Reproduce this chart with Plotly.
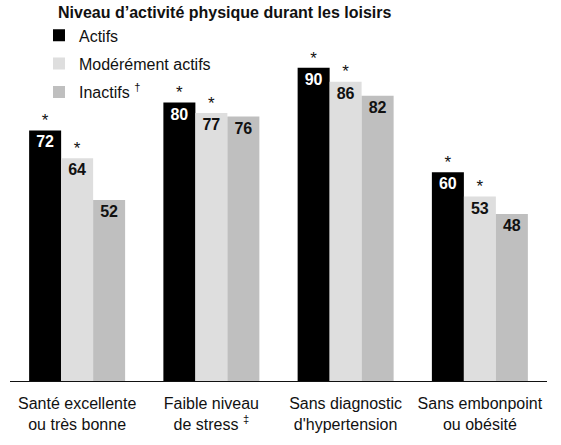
import plotly.graph_objects as go

# valeurs (%)
categories = [
    "Santé excellente<br>ou très bonne",
    "Faible niveau<br>de stress <sup>‡</sup>",
    "Sans diagnostic<br>d'hypertension",
    "Sans embonpoint<br>ou obésité",
]
actifs = [72, 80, 90, 60]
moderes = [64, 77, 86, 53]
inactifs = [52, 76, 82, 48]
sig_actifs = ["*", "*", "*", "*"]
sig_moderes = ["*", "*", "*", "*"]
sig_inactifs = ["", "", "", ""]

series = [
    ("Actifs", actifs, sig_actifs, "#000000", "white"),
    ("Modérément actifs", moderes, sig_moderes, "#dedede", "#111111"),
    ("Inactifs <sup>†</sup>", inactifs, sig_inactifs, "#bfbfbf", "#111111"),
]

FONT = "Liberation Sans, Arial, sans-serif"

fig = go.Figure()
for i, (name, vals, sig, color, txtcol) in enumerate(series):
    fig.add_trace(go.Bar(
        x=categories, y=vals, name=name,
        marker=dict(color=color, line=dict(width=0)),
        text=vals, textposition="inside", insidetextanchor="end",
        textangle=0, constraintext="none",
        textfont=dict(family=FONT, size=16, color=txtcol, weight="bold"),
        offsetgroup=str(i), alignmentgroup="g", legendgroup=str(i),
        hoverinfo="skip",
    ))
# astérisques de signification au-dessus des barres
for i, (name, vals, sig, color, txtcol) in enumerate(series):
    fig.add_trace(go.Scatter(
        x=categories, y=vals, mode="text", text=sig,
        textposition="top center",
        textfont=dict(family=FONT, size=17, color="#111111"),
        offsetgroup=str(i), alignmentgroup="g",
        showlegend=False, hoverinfo="skip", cliponaxis=False,
    ))

fig.update_layout(
    width=561, height=445,
    margin=dict(l=10, r=14, t=33, b=64, autoexpand=False),
    barmode="group", bargap=0.285, bargroupgap=0,
    scattermode="group", scattergap=0.285,
    plot_bgcolor="white", paper_bgcolor="white",
    font=dict(family=FONT, size=16, color="#111111"),
    title=dict(
        text="<b>Niveau d’activité physique durant les loisirs</b>",
        x=58 / 561, xanchor="left", xref="container",
        y=1 - 12 / 445, yanchor="middle", yref="container",
        font=dict(family=FONT, size=16, color="#111111"),
    ),
    legend=dict(
        x=0.054, xanchor="left", y=1.042, yanchor="top",
        traceorder="grouped", tracegroupgap=4.5,
        font=dict(family=FONT, size=16, color="#111111"),
        bgcolor="rgba(0,0,0,0)",
    ),
    xaxis=dict(
        showline=True, linecolor="#111111", linewidth=1,
        ticks="", showgrid=False, ticklabelstandoff=8,
        tickfont=dict(family=FONT, size=16, color="#111111"),
    ),
    yaxis=dict(range=[0, 100], visible=False, showgrid=False),
)

# la page par défaut a une marge de 8 px autour du graphique
fig.write_html(
    "out.html",
    config={"displayModeBar": False},
    post_script="document.body.style.margin='0';",
)
